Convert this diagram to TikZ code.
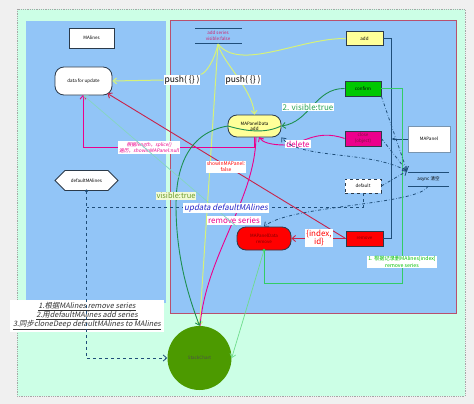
\documentclass[tikz,border=0pt]{standalone}
\usepackage{fontspec}
\setmainfont{Noto Sans CJK SC}
\newfontfamily\slantfont[FakeSlant=0.2]{Noto Sans CJK SC}
\usetikzlibrary{arrows.meta,shapes.geometric,shapes.symbols,calc}
\definecolor{bggray}{HTML}{F0F0F0}
\definecolor{mint}{HTML}{CCFFE6}
\definecolor{panelblue}{HTML}{92C5F7}
\definecolor{redborder}{HTML}{B8506E}
\definecolor{boxedge}{HTML}{2B3A4A}
\definecolor{yfill}{HTML}{FFFF99}
\definecolor{ylines}{HTML}{D6F27A}
\definecolor{gfill}{HTML}{00C800}
\definecolor{darkblue}{HTML}{1F4E79}
\definecolor{brightgreen}{HTML}{33CC66}
\definecolor{darkgreen}{HTML}{1E9050}
\definecolor{tealline}{HTML}{86D4C4}
\definecolor{lightgreen}{HTML}{6EDC8C}
\definecolor{redline}{HTML}{C8234A}
\definecolor{stackgreen}{HTML}{4C9A00}
\definecolor{olive}{HTML}{6A9A2A}
\definecolor{labelblue}{HTML}{2323C8}
\definecolor{pinkred}{HTML}{D0206A}
\tikzset{
  tinyt/.style={font=\fontsize{4.5}{5.5}\selectfont, align=center},
  wbox/.style={draw=boxedge, fill=white, line width=0.8pt, tinyt, inner sep=0pt},
  lbl/.style={fill=white, inner sep=1pt, align=center},
  arr/.style={-{Straight Barb[length=3.5pt,width=6pt]}},
}
\begin{document}
\begin{tikzpicture}[x=1pt,y=-1pt]
\useasboundingbox (0,0) rectangle (474,404);
\fill[bggray] (0,0) rectangle (474,404);
\draw[fill=mint, draw=gray!70, densely dotted, line width=0.8pt] (17,9) rectangle (465,396);
\fill[panelblue] (26,21) rectangle (166,303);
\draw[fill=panelblue, draw=redborder, line width=0.9pt] (170,20) rectangle (456,313);

% nodes
\node[wbox, minimum width=45, minimum height=20] (malines) at (91.5,38) {MAlines};
\node[wbox, rounded corners=9pt, minimum width=57, minimum height=28] (dfu) at (83.5,81) {data for update};
\node[wbox, shape=signal, signal to=east and west, minimum width=63, minimum height=20] (defml) at (86.5,180.5) {defaultMAlines};

\draw[darkblue, line width=0.8pt] (195,28) -- (242,28) (195,43) -- (242,43);
\node[tinyt, text=pinkred] (addsertext) at (218,35.5) {add series\\visible:false};
\coordinate (addser) at (218,44);

\node[wbox, fill=yfill, minimum width=37, minimum height=14] (add) at (364.5,38.5) {add};
\node[wbox, fill=gfill, minimum width=36, minimum height=15] (confirm) at (363,88.5) {confirm};
\node[wbox, fill=magenta, text=pinkred!60!black, minimum width=36, minimum height=15] (close) at (363,138.5) {close\\(object)};
\node[wbox, dashed, minimum width=36, minimum height=14] (default) at (363,186) {default};
\node[wbox, draw=darkblue!60, minimum width=42, minimum height=26] (mapanel) at (429,139) {MAPanel};
\draw[darkblue, line width=0.8pt] (408,172) -- (449,172) (408,186) -- (449,186);
\node[tinyt] (asynctext) at (428.5,179) {async 清空};
\coordinate (async) at (407,171);
\coordinate (asyncb) at (428,186);

\node[wbox, fill=yfill, rounded corners=9pt, minimum width=53, minimum height=22] (mpadd) at (254.5,126) {MAPanelData\\add};
\node[wbox, fill=red, text=red!50!black, rounded corners=9pt, minimum width=54, minimum height=23] (mprem) at (264,238.5) {MAPanelData\\remove};
\node[wbox, fill=red, text=red!50!black, minimum width=37, minimum height=15] (removebtn) at (364.5,238.5) {remove};
\node[circle, fill=stackgreen, minimum size=64, tinyt, text=black!70, inner sep=0pt] (stack) at (199.5,358) {StackChart};

% left note
\node[fill=white, inner sep=2pt, align=center, minimum width=154, font=\fontsize{7.4}{9.2}\selectfont\slantfont, text=black!80] (note) at (87,316)
 {\underline{1.根据MAlines remove series}\\\underline{2.用defaultMAlines add series}\\\underline{3.同步cloneDeep defaultMAlines to MAlines}};

% dashed lines from defaultMAlines / default
\fill[darkblue] (defml.south) circle (1.6pt);
\draw[darkblue, dashed, line width=0.8pt, arr] (defml.south) -- (86.5,358) -- (stack.west);
\draw[darkblue, dashed, line width=0.8pt] (default.south) -- (363,207) -- (86.5,207);

% dark blue solid line add -> remove
\draw[darkblue, line width=0.9pt] (add.east) -- (391.5,38.5) -- (391.5,238.5) -- (removebtn.east);
\draw[darkblue, line width=0.8pt, -{Latex[length=3pt,width=3pt]}] (mapanel.west) -- (391.5,139);

% yellow lines
\draw[ylines, line width=1pt] (add.west) .. controls (300,38) and (240,72) .. (addser);
\node[lbl, font=\fontsize{8.5}{10}\selectfont] (push1) at (182,80) {push( \{\} )};
\draw[ylines, line width=1pt] (addser) .. controls (214,62) and (205,74) .. (push1.north east);
\draw[ylines, line width=1pt, arr] (push1.west) -- (dfu.east);
\draw[ylines, line width=1pt, arr] (addser) .. controls (222,62) and (252,88) .. (mpadd.north);
\node[lbl, font=\fontsize{8.5}{10}\selectfont] (push2) at (243,80) {push( \{\} )};
\draw[ylines, line width=1pt, arr] (addser) -- (stack.north);

% red line remove -> data for update
\draw[redline, line width=0.9pt, arr] (removebtn.west) -- ($(dfu.south east)+(-5,-2)$);
\node[lbl, tinyt, text=red, font=\fontsize{5}{6}\selectfont] (showfalse) at (226,167) {showInMAPanel:\\false};
\draw[redline, line width=0.9pt, arr] (removebtn.west) -- (mprem.east);
\node[lbl, text=red, font=\fontsize{8}{8}\selectfont] (indexid) at (319,238) {\{index,\\ id\}};

% magenta lines
\draw[magenta, line width=0.9pt, arr] (mpadd.south) -- (254.5,147) -- (83,147) -- (83,95);
\node[lbl, text=magenta, font=\fontsize{4.8}{5.8}\selectfont\slantfont] (splice) at (149,147.5) {根据length，splice()\\遍历，showInMAPanel:null};
\draw[magenta, line width=0.9pt, arr] (close.west) .. controls (315,128) and (300,146) .. (285,145) .. controls (270,145) and (262,142) .. (259,137);
\node[lbl, text=magenta, font=\fontsize{8}{9}\selectfont] (delete) at (298,144) {delete};
\draw[magenta, line width=0.9pt] (256,137) .. controls (255,200) and (206,255) .. (200,326);
\node[lbl, text=magenta, font=\fontsize{8}{9}\selectfont] (remser) at (234,220.5) {remove series};

% green lines
\draw[darkgreen, line width=0.9pt, arr] (confirm.west) .. controls (315,88) and (310,122) .. (mpadd.east);
\node[lbl, text=brightgreen!80!black, font=\fontsize{8}{9}\selectfont] (vis2) at (308,107) {2. visible:true};
\draw[darkgreen, line width=0.9pt, arr] (281,126) .. controls (265,134) and (245,131) .. (228,126)
  .. controls (190,132) and (176,165) .. (176,205) .. controls (176,260) and (190,300) .. (stack.north);
\node[lbl, text=olive, font=\fontsize{7.5}{9}\selectfont, fill=white!70!ylines] (vis1) at (176,196) {visible:true};
\draw[brightgreen, line width=1pt] (confirm.east) -- (402,88.5) -- (402,283) -- (264,283) -- (mprem.south);
\fill[brightgreen] (mprem.south) circle (1.8pt);
\node[lbl, text=green!75!black, font=\fontsize{5.2}{6.5}\selectfont] (rmidx) at (402,262) {1. 根据记录删MAlines[index]\\remove series};
\draw[lightgreen, line width=0.7pt, arr] (mprem.south) -- (stack.east);
\draw[tealline, line width=0.8pt, arr] (mprem.north west) -- (dfu.south);

\node[lbl, text=labelblue, font=\fontsize{8}{9}\selectfont\slantfont] (updata) at (226,208) {updata defaultMAlines};

% dash-dot lines
\draw[darkblue, dash dot, line width=0.8pt, arr] (confirm.south east) -- (async);
\draw[darkblue, dash dot, line width=0.8pt, arr] (close.east) -- (async);
\draw[darkblue, dash dot, line width=0.8pt, arr] (default.east) -- (async);
\draw[darkblue, dash dot, line width=0.8pt, arr] (async) .. controls (370,150) and (300,160) .. (mpadd.south east);
\draw[darkblue, dash dot, line width=0.8pt, arr] (asyncb) .. controls (420,205) and (290,205) .. (mprem.north);
\end{tikzpicture}
\end{document}
